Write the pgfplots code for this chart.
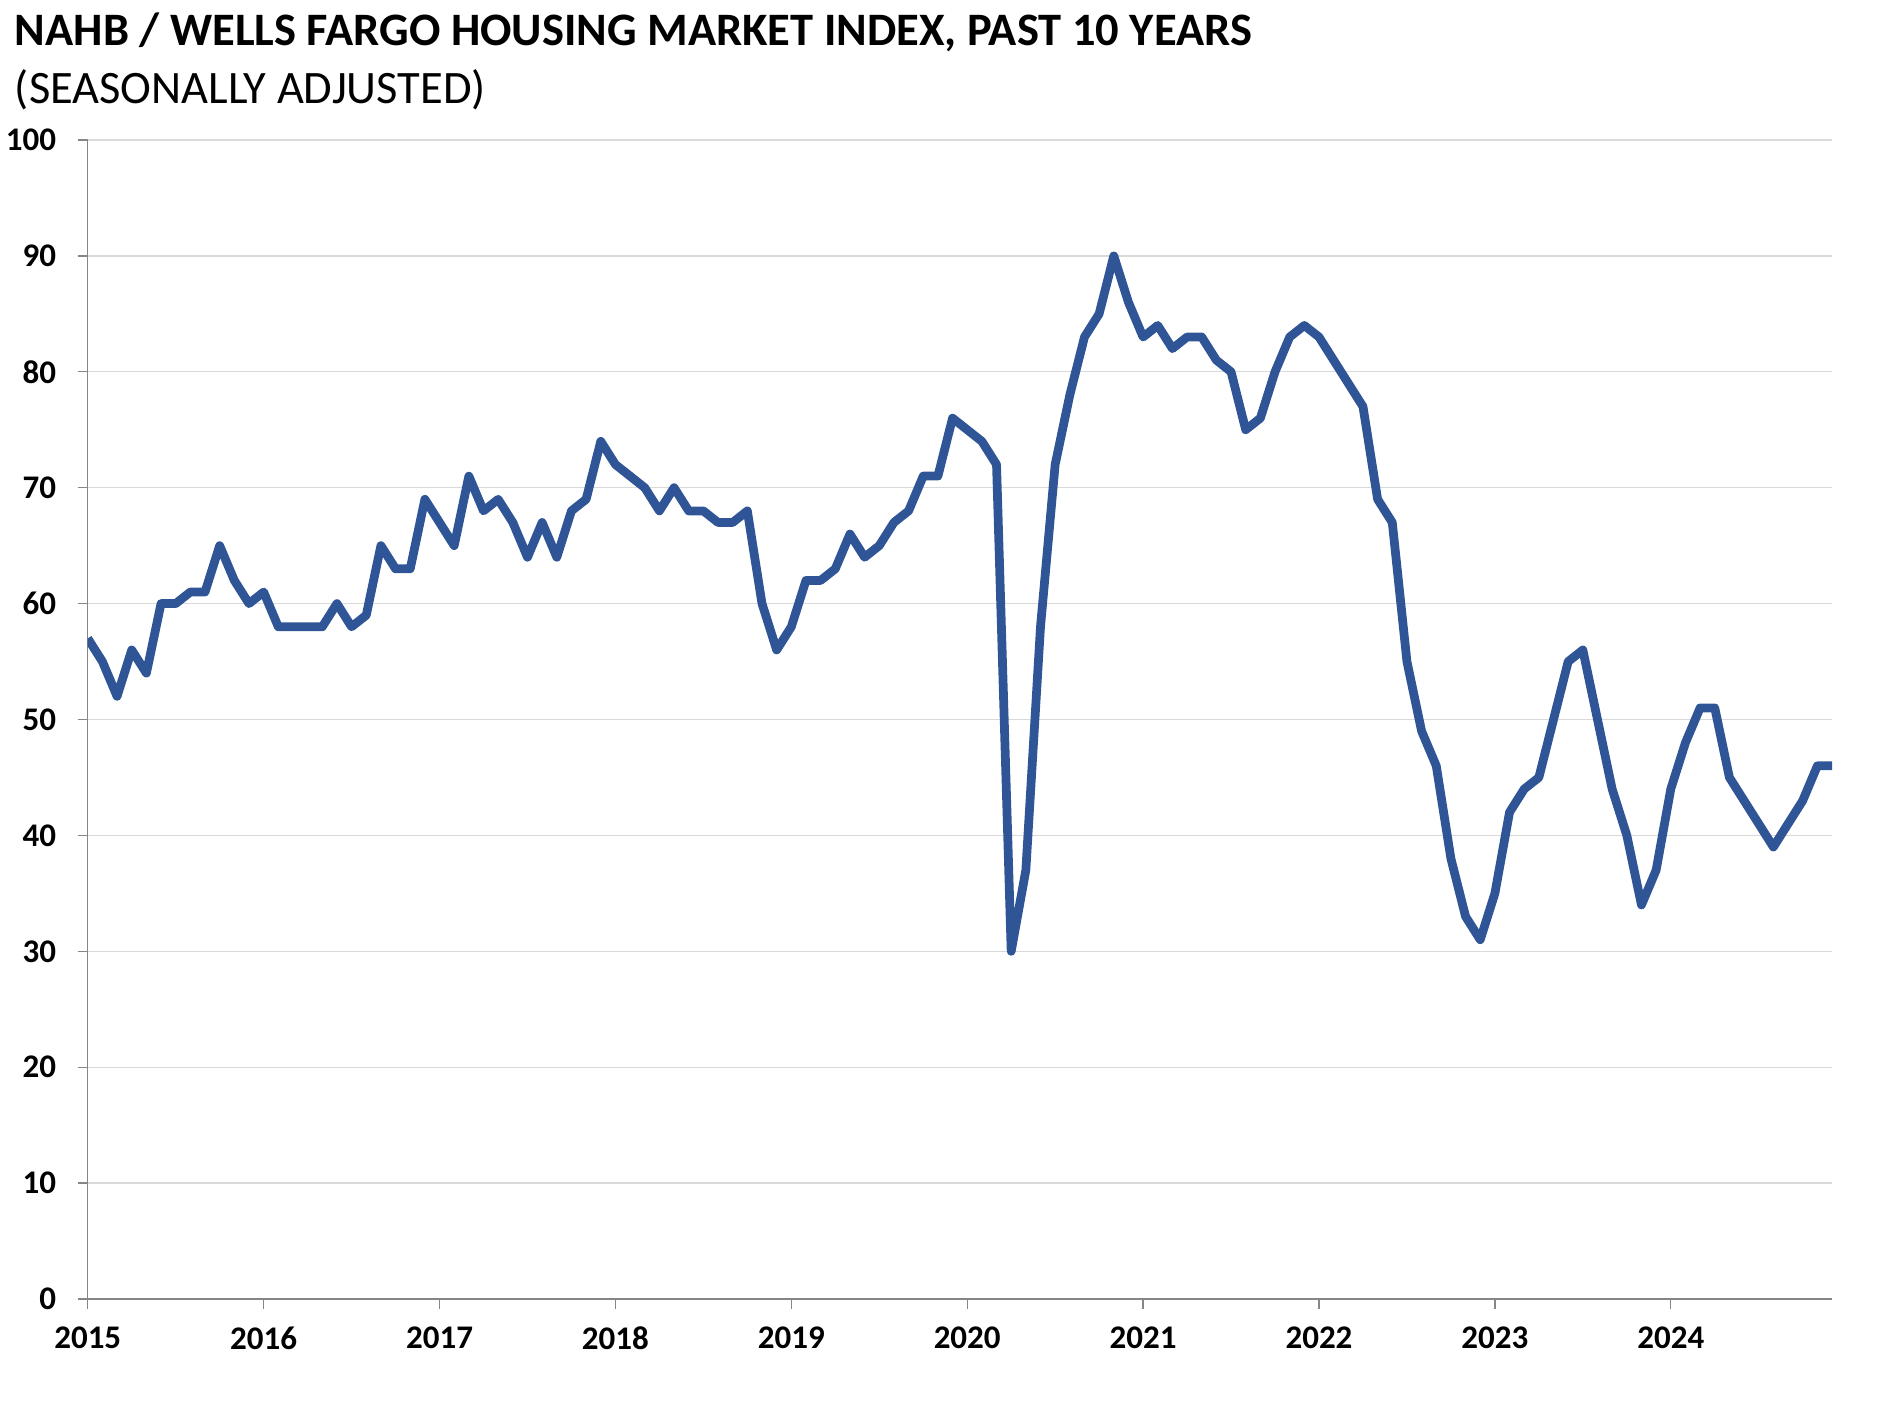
\documentclass[border=0pt]{standalone}
\usepackage{fontspec}
\setmainfont{Carlito}
\usepackage{pgfplots}
\pgfplotsset{compat=1.18}

\definecolor{hmiblue}{RGB}{47,85,151}
\definecolor{gridgray}{RGB}{217,217,217}
\definecolor{axisgray}{RGB}{134,134,134}

\begin{document}
\begin{tikzpicture}
% page frame: 1885x1400 px at 0.4pt per px
\useasboundingbox (-35.1pt,-40.4pt) rectangle (718.9pt,519.6pt);

\node[anchor=base west, inner sep=0pt, font=\fontsize{18.6}{22}\selectfont\bfseries]
  at (-29.3pt,501.2pt) {NAHB / WELLS FARGO HOUSING MARKET INDEX, PAST 10 YEARS};
\node[anchor=base west, inner sep=0pt, font=\fontsize{18.6}{22}\selectfont]
  at (-29.3pt,478.3pt) {(SEASONALLY ADJUSTED)};

\begin{axis}[
  scale only axis,
  width=697.7pt, height=463.6pt,
  xmin=0, xmax=119,
  ymin=0, ymax=100,
  axis lines*=left,
  axis line style={axisgray, line width=0.5pt},
  tick align=outside,
  major tick length=4pt,
  tick style={axisgray, line width=0.5pt},
  xtick={0,12,...,108},
  xticklabels={2015,2016,2017,2018,2019,2020,2021,2022,2023,2024},
  ytick={0,10,...,100},
  ymajorgrids,
  y grid style={gridgray, line width=0.5pt},
  /pgf/number format/assume math mode=true,
  ticklabel style={font=\fontsize{13.2}{15}\selectfont\bfseries},
  yticklabel style={inner sep=0pt, xshift=-8.5pt},
  xticklabel style={inner sep=0pt, yshift=-6.8pt},
]
\addplot[hmiblue, line width=3.5pt, line join=round, mark=none] table {
0 57
1 55
2 52
3 56
4 54
5 60
6 60
7 61
8 61
9 65
10 62
11 60
12 61
13 58
14 58
15 58
16 58
17 60
18 58
19 59
20 65
21 63
22 63
23 69
24 67
25 65
26 71
27 68
28 69
29 67
30 64
31 67
32 64
33 68
34 69
35 74
36 72
37 71
38 70
39 68
40 70
41 68
42 68
43 67
44 67
45 68
46 60
47 56
48 58
49 62
50 62
51 63
52 66
53 64
54 65
55 67
56 68
57 71
58 71
59 76
60 75
61 74
62 72
63 30
64 37
65 58
66 72
67 78
68 83
69 85
70 90
71 86
72 83
73 84
74 82
75 83
76 83
77 81
78 80
79 75
80 76
81 80
82 83
83 84
84 83
85 81
86 79
87 77
88 69
89 67
90 55
91 49
92 46
93 38
94 33
95 31
96 35
97 42
98 44
99 45
100 50
101 55
102 56
103 50
104 44
105 40
106 34
107 37
108 44
109 48
110 51
111 51
112 45
113 43
114 41
115 39
116 41
117 43
118 46
119 46
};
\end{axis}
\end{tikzpicture}
\end{document}
